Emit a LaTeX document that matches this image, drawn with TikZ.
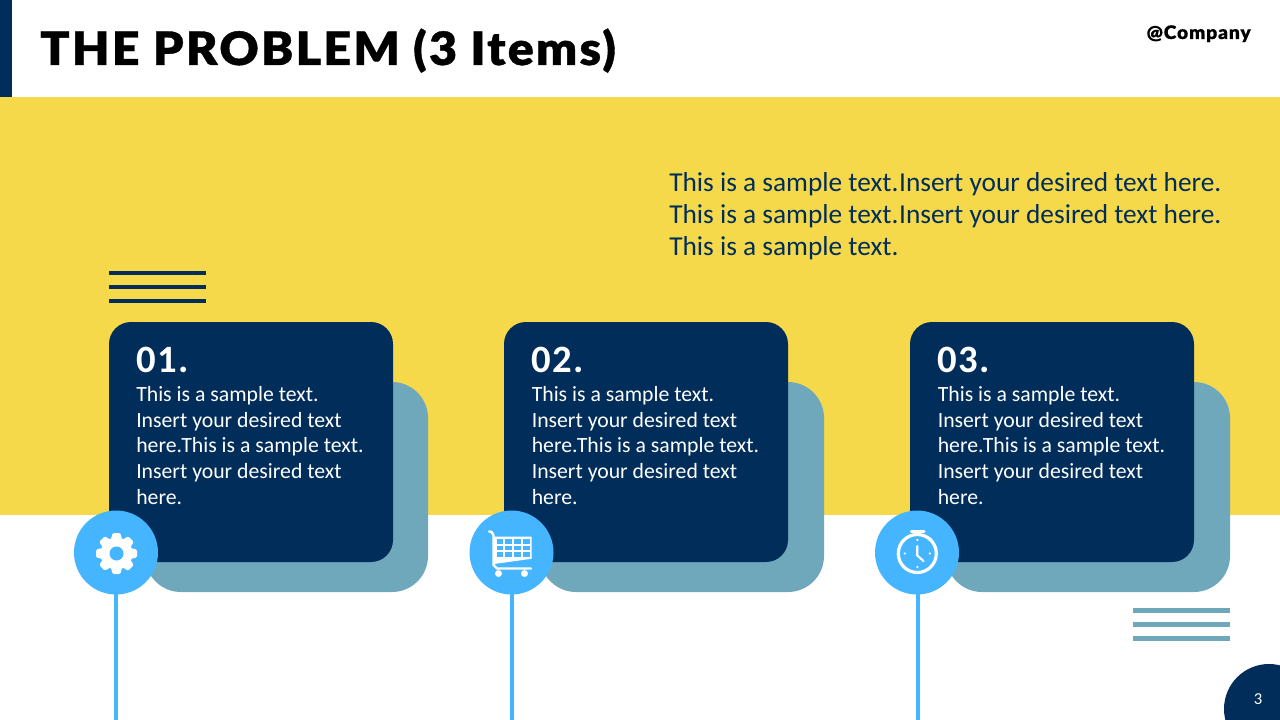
\documentclass[tikz,border=0pt]{standalone}
\usepackage{fontspec}
\setmainfont{Carlito}
\newfontfamily\titlefont[LetterSpace=5,FakeStretch=1.05,FakeBold=0.8]{Lato Black}
\newfontfamily\smallfont[LetterSpace=4.5,FakeStretch=1.03,FakeBold=0.3]{Lato Black}
\newfontfamily\numfont[LetterSpace=3.5]{Carlito}
\definecolor{navy}{HTML}{002D5A}
\definecolor{sun}{HTML}{F5D94A}
\definecolor{teal}{HTML}{6FA8BB}
\definecolor{sky}{HTML}{45B5FF}
\tikzset{
 x=0.75pt,y=-0.75pt,
 front/.style={fill=navy,rounded corners=16.5pt},
 back/.style={fill=teal,rounded corners=27pt},
 badge/.style={circle,fill=sky,minimum size=63pt,inner sep=0pt},
 stem/.style={draw=sky,line width=3pt},
 body/.style={text=white,font=\fontsize{16.3}{19.3}\selectfont,align=left,anchor=north west,inner sep=0pt},
 num/.style={text=white,font=\numfont\bfseries\fontsize{29}{32}\selectfont,anchor=base west,inner sep=0pt},
 ico/.style={draw=white,line width=1.8pt},
 icof/.style={fill=white},
}
\newcommand{\bodytext}{This is a sample text.\\Insert your desired text\\here.\kern-0.6pt This is a sample text.\\Insert your desired text\\here.}
\begin{document}
\begin{tikzpicture}
\useasboundingbox (0,0) rectangle (1280,720);
\fill[white] (0,0) rectangle (1280,720);
\fill[navy] (0,0) rectangle (12,97);
\fill[sun] (0,97) rectangle (1280,515);
\node[anchor=base west,inner sep=0pt,font=\titlefont\fontsize{34.5}{40}\selectfont] (title) at (40,65) {THE PROBLEM (3 Items)};
\node[anchor=base east,inner sep=0pt,font=\smallfont\fontsize{14}{17}\selectfont] (company) at (1251,39) {@Company};
\node[anchor=north west,inner sep=0pt,align=left,text=navy,font=\fontsize{20.5}{24}\selectfont] (intro) at (669,172) {This is a sample text.\kern0.5pt Insert your desired text here.\\This is a sample text.\kern0.5pt Insert your desired text here.\\This is a sample text.};
\foreach \yy in {271,285,298.7} \fill[navy] (109,\yy) rectangle (206,\yy+4.4);
\foreach \yy in {608,622,636} \fill[teal] (1133,\yy) rectangle (1230,\yy+5);
% cards
\foreach \nm/\xa/\xb/\xc/\tx/\cx/\sx/\lbl in {a/109/393/428/136/116/116/01.,b/504/788/824/531.5/511.5/512/02.,c/910/1194/1230/937.5/917/918/03.}{
 \fill[back] (\xa+36,382) rectangle (\xc,592);
 \fill[front] (\xa,322) rectangle (\xb,562);
 \node[num] (n\nm) at (\tx,372) {\lbl};
 \node[body] (t\nm) at (\tx,386) {\bodytext};
 \coordinate (e\nm) at (\sx,720);
 \coordinate (s\nm) at (\sx,592);
 \draw[stem] (s\nm) -- (e\nm);
 \node[badge] (c\nm) at (\cx,552.5) {};
}
% gear
\begin{scope}[shift={(116.5,553.5)}]
 \foreach \a in {0,45,...,315}
  \fill[icof,rotate=\a,rounded corners=1pt] (-6,-12) -- (-3.9,-20.5) -- (3.9,-20.5) -- (6,-12) -- cycle;
 \fill[icof] (0,0) circle[radius=16];
 \fill[sky] (0,0) circle[radius=7];
\end{scope}
% cart
\draw[ico,line cap=round,line join=round] (489,531.5) -- (491.5,531.8) -- (493.5,535) -- (493.5,565) -- (497,568.5) -- (531,568.5);
\fill[icof] (494,536.5) -- (531.5,536.5) -- (531.5,558.8) -- (494,564) -- cycle;
\foreach \gx/\gy in {0/0,1/0,2/0,3/0,0/1,1/1,2/1,3/1,0/2,1/2,2/2,3/2}
 \fill[sky] (496.5+\gx*8.9,539+\gy*6.5) rectangle +(6.9,4.6);
\fill[icof] (498.5,573.5) circle[radius=3.5];
\fill[icof] (524.5,573.5) circle[radius=3.5];
% stopwatch
\draw[ico,line width=2.4pt] (917.3,553.5) circle[radius=19];
\draw[ico,line width=2.6pt,line cap=round] (911.5,531.7) -- (924,531.7);
\draw[ico,line width=2.6pt] (917.3,532) -- (917.3,535);
\draw[ico,line cap=round] (930,538.5) -- (931.5,540);
\draw[ico,line width=1.6pt,line cap=round,line join=round] (917.3,546) -- (917.3,555.5) -- (923.5,561);
\foreach \dx/\dy in {0/-13.5,0/13.5,-12.5/0,12.5/0} \fill[icof] (917.3+\dx,553.5+\dy) circle[radius=1.2];
% corner
\begin{scope}
 \clip (1200,640) rectangle (1280,720);
 \fill[navy] (1269,709) circle[radius=45];
\end{scope}
\node[text=white,font=\fontsize{12.5}{14}\selectfont,inner sep=0pt] (page) at (1258,699) {3};
\end{tikzpicture}
\end{document}
